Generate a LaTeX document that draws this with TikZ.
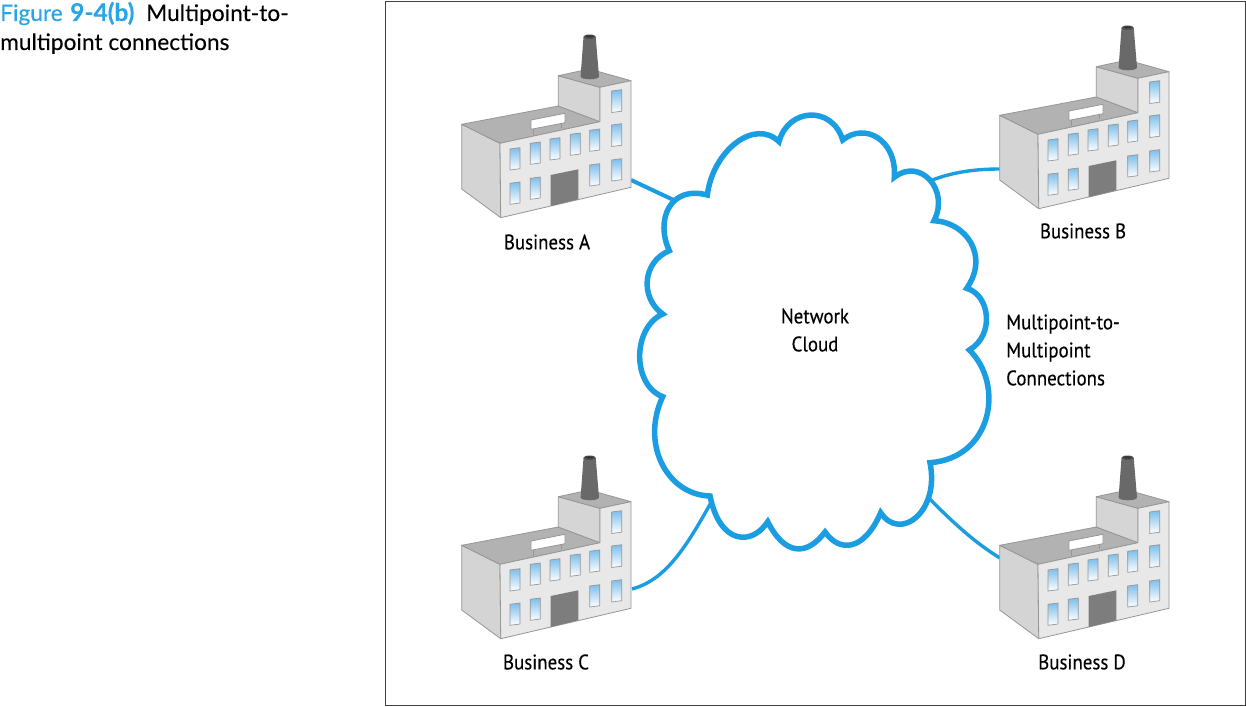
\documentclass[tikz,border=0pt]{standalone}
\usepackage{fontspec}
\setmainfont{PT Sans}[FakeStretch=0.9,FakeBold=0.2]
\newfontfamily\capfont{Lato}[FakeBold=0.15]
\definecolor{cloudblue}{RGB}{27,157,226}
\definecolor{capblue}{RGB}{40,165,230}
\definecolor{edgegrey}{RGB}{150,150,150}
\definecolor{roofgrey}{RGB}{178,178,178}
\definecolor{frontgrey}{RGB}{232,232,232}
\definecolor{sidegrey}{RGB}{212,212,212}
\definecolor{doorgrey}{RGB}{125,125,125}
\definecolor{stackgrey}{RGB}{105,105,105}
\definecolor{winblue}{RGB}{125,190,235}
\tikzset{
  wall/.style={draw=edgegrey,line width=0.8pt,line join=round},
  winbox/.style={draw=edgegrey,line width=0.7pt,top color=winblue,bottom color=white},
  cloudline/.style={draw=cloudblue,line width=5.5pt,miter limit=10,fill=white},
  link/.style={draw=cloudblue,line width=3.4pt},
  bizlabel/.style={font=\fontsize{21}{24}\selectfont,inner sep=0pt,text=black},
  caplabel/.style={font=\capfont\fontsize{22.7}{26}\selectfont,inner sep=0pt,anchor=base west}
}
\newcommand{\factorywin}[3]{%
  \shadedraw[winbox] (#1,#2) -- ++(10,-1.3) -- ++(0,#3) -- ++(-10,1.3) -- cycle;}
\newcommand{\factory}[1]{%
\begin{scope}[shift={#1}]
  % left wall
  \fill[sidegrey] (461.7,124.3) -- (500,143.3) -- (500.7,217.7) -- (461.7,189) -- cycle;
  \draw[wall] (461.7,124.3) -- (500,143.3) -- (500.7,217.7) -- (461.7,189) -- cycle;
  % main roof
  \draw[wall,fill=roofgrey] (461.7,124.3) -- (558.3,106) -- (600,121.7) -- (500,143.3) -- cycle;
  % tower side
  \draw[wall,fill=frontgrey!92!black] (558.3,75.7) -- (600,87.3) -- (600,121.7) -- (558.3,106) -- cycle;
  % tower roof
  \draw[wall,fill=roofgrey] (558.3,75.7) -- (589.3,69) -- (631,80.7) -- (600,87.3) -- cycle;
  % front
  \draw[wall,fill=frontgrey] (600,87.3) -- (631,80.7) -- (631,187.3) -- (500.7,217.7) -- (500,143.3) -- (600,121.7) -- cycle;
  % chimney
  \fill[stackgrey] (583.5,36.7) -- (595.7,36.7) -- (599,76.5) arc[start angle=0,end angle=-180,x radius=9.2,y radius=-2.8] -- cycle;
  \fill[stackgrey!75!black] (589.6,36.7) ellipse[x radius=6.1,y radius=2.2];
  \fill[black!80] (589.6,36.4) ellipse[x radius=3.8,y radius=1.1];
  % sign
  \draw[edgegrey,line width=0.8pt] (533.3,129.3) -- (533.3,135) (561.7,123.3) -- (561.7,128.3);
  \draw[wall,fill=white] (531,120) -- (565,113.3) -- (565,122.7) -- (531,129.3) -- cycle;
  % door
  \fill[doorgrey] (550.7,175) -- (578.3,169.3) -- (578.3,199.3) -- (550.7,206) -- cycle;
  % windows
  \factorywin{510}{149}{21}
  \factorywin{530.3}{143.3}{21}
  \factorywin{550}{139}{21}
  \factorywin{570.3}{134.3}{21}
  \factorywin{589.7}{130.3}{21}
  \factorywin{510}{183.3}{21}
  \factorywin{530.3}{178.3}{21}
  \factorywin{589.7}{165}{21}
  \factorywin{611.7}{91}{21.5}
  \factorywin{611.7}{125}{21.5}
  \factorywin{611.7}{160}{21}
\end{scope}}
\begin{document}
\begin{tikzpicture}[x=1pt,y=-1pt]
\useasboundingbox (0,0) rectangle (1246,706);
\fill[white] (0,0) rectangle (1246,706);
\draw[black!75,line width=0.9pt] (385.5,1) rectangle (1245.5,705);

% connection points
\coordinate (bizAport) at (631,180);
\coordinate (bizBport) at (1000,169);
\coordinate (bizCport) at (632,589);
\coordinate (bizDport) at (1000,558);
\coordinate (cloudA) at (680,203);
\coordinate (cloudB) at (925,183);
\coordinate (cloudC) at (714,497);
\coordinate (cloudD) at (925,494);

\draw[link,line width=4pt] (bizAport) -- (cloudA);
\draw[link] (cloudB) .. controls (950,172) and (975,169) .. (bizBport);
\draw[link] (bizCport) .. controls (665,580) and (685,550) .. (cloudC);
\draw[link] (cloudD) .. controls (950,520) and (975,543) .. (bizDport);

\path[cloudline] (707.3,195)
  .. controls (713,150) and (755,118) .. (779,141.7)
  .. controls (788,108) and (832,105) .. (842.7,140)
  .. controls (865,122) and (897,140) .. (894.3,177.3)
  .. controls (920,157) and (950,190) .. (934,220.7)
  .. controls (965,222) and (990,255) .. (966.7,288.3)
  .. controls (990,295) and (995,335) .. (969.3,350)
  .. controls (1005,385) and (992,458) .. (930,462.7)
  .. controls (940,512) and (900,542) .. (880.7,512.7)
  .. controls (864,551) and (840,553) .. (825,532)
  .. controls (807,556) and (785,556) .. (767.7,521.7)
  .. controls (752,546) and (720,545) .. (710,496)
  .. controls (668,495) and (640,445) .. (662.7,396.7)
  .. controls (632,385) and (632,328) .. (662.7,314)
  .. controls (640,298) and (642,262) .. (669.3,250.7)
  .. controls (655,220) and (670,185) .. cycle;

\factory{(0,0)}
\factory{(538,-9)}
\factory{(0,421)}
\factory{(538,421)}

\node[bizlabel] (labelA) at (547,242) {Business A};
\node[bizlabel] (labelB) at (1083,231) {Business B};
\node[bizlabel] (labelC) at (546,662) {Business C};
\node[bizlabel] (labelD) at (1082,662) {Business D};
\node[bizlabel,align=center] (cloudlabel) at (815,330) {Network\\[4pt]Cloud};
\node[bizlabel,align=left,anchor=west] (linklabel) at (1006,350) {Multipoint-to-\\[4pt]Multipoint\\[4pt]Connections};

\node[caplabel,text=capblue] (capfig) at (0,21) {Figure};
\node[caplabel,text=capblue,font=\capfont\bfseries\fontsize{24.5}{26}\selectfont] (capnum) at (70,21) {9-4(b)};
\node[caplabel,text=black] (captitle) at (146,21) {Multipoint-to-};
\node[caplabel,text=black] (captitleb) at (0,50) {multipoint connections};
\end{tikzpicture}
\end{document}
